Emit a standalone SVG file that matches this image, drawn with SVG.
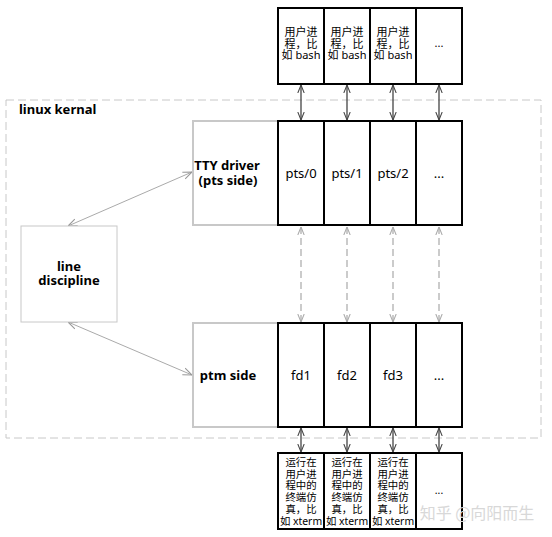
<svg xmlns="http://www.w3.org/2000/svg" width="552" height="537" viewBox="0 0 552 537">
<defs>
<style>
.t{font-family:"Noto Sans","Noto Sans CJK SC",sans-serif;fill:#000;text-anchor:middle}
.b{font-weight:bold;font-size:13px}
.s{font-size:13px}
.c{font-size:11px}
.c2{font-size:10.4px}
.cell{fill:#fff;stroke:#000;stroke-width:2}
.gbox{fill:#fff;stroke:#c8c8c8;stroke-width:2}
.arr{stroke:#444;stroke-width:1.3;fill:none;marker-start:url(#ah);marker-end:url(#ah)}
.darr{stroke:#bbb;stroke-width:1.5;stroke-dasharray:7 4;fill:none;marker-start:url(#ahg);marker-end:url(#ahg)}
.larr{stroke:#aaa;stroke-width:1;fill:none;marker-start:url(#ahl);marker-end:url(#ahl)}
</style>
<marker id="ah" viewBox="0 0 10 10" refX="10" refY="5" markerWidth="8" markerHeight="8" orient="auto-start-reverse" markerUnits="userSpaceOnUse"><path d="M0,1 L10,5 L0,9" fill="none" stroke="#444" stroke-width="1.3"/></marker>
<marker id="ahg" viewBox="0 0 10 10" refX="10" refY="5" markerWidth="8" markerHeight="8" orient="auto-start-reverse" markerUnits="userSpaceOnUse"><path d="M0,1 L10,5 L0,9" fill="none" stroke="#aaa" stroke-width="1.3"/></marker>
<marker id="ahl" viewBox="0 0 10 10" refX="10" refY="5" markerWidth="9" markerHeight="9" orient="auto-start-reverse" markerUnits="userSpaceOnUse"><path d="M0,1 L10,5 L0,9" fill="none" stroke="#999" stroke-width="1.2"/></marker>
</defs>
<rect width="552" height="537" fill="#fff"/>
<g id="kernel">
<rect x="6" y="100" width="535" height="338" fill="none" stroke="#c8c8c8" stroke-width="1" stroke-dasharray="8 4"/>
<text class="t b" x="19" y="114" style="text-anchor:start">linux kernal</text>
</g>
<g id="connectors">
<line class="arr" x1="301" y1="85" x2="301" y2="120"/>
<line class="arr" x1="347" y1="85" x2="347" y2="120"/>
<line class="arr" x1="393" y1="85" x2="393" y2="120"/>
<line class="arr" x1="439" y1="85" x2="439" y2="120"/>
<line class="darr" x1="301" y1="227" x2="301" y2="322"/>
<line class="darr" x1="347" y1="227" x2="347" y2="322"/>
<line class="darr" x1="393" y1="227" x2="393" y2="322"/>
<line class="darr" x1="439" y1="227" x2="439" y2="322"/>
<line class="arr" x1="301" y1="428" x2="301" y2="452"/>
<line class="arr" x1="347" y1="428" x2="347" y2="452"/>
<line class="arr" x1="393" y1="428" x2="393" y2="452"/>
<line class="arr" x1="439" y1="428" x2="439" y2="452"/>
<line class="larr" x1="192" y1="172" x2="68" y2="226"/>
<line class="larr" x1="68" y1="322" x2="192" y2="375"/>
</g>
<g id="user-procs">
<rect class="cell" x="278" y="8" width="46" height="76"/>
<rect class="cell" x="324" y="8" width="46" height="76"/>
<rect class="cell" x="370" y="8" width="46" height="76"/>
<rect class="cell" x="416" y="8" width="46" height="76"/>
<text class="t c" y="36"><tspan x="301">用户进</tspan><tspan x="301" dy="11.5">程，比</tspan><tspan x="301" dy="11.5">如 bash</tspan></text>
<text class="t c" y="36"><tspan x="347">用户进</tspan><tspan x="347" dy="11.5">程，比</tspan><tspan x="347" dy="11.5">如 bash</tspan></text>
<text class="t c" y="36"><tspan x="393">用户进</tspan><tspan x="393" dy="11.5">程，比</tspan><tspan x="393" dy="11.5">如 bash</tspan></text>
<text class="t c" x="439" y="47">...</text>
</g>
<g id="tty-driver">
<rect class="gbox" x="193" y="121" width="85" height="104"/>
<text class="t b" x="227" y="170">TTY driver</text>
<text class="t b" x="228" y="185">(pts side)</text>
</g>
<g id="pts">
<rect class="cell" x="278" y="121" width="46" height="104"/>
<rect class="cell" x="324" y="121" width="46" height="104"/>
<rect class="cell" x="370" y="121" width="46" height="104"/>
<rect class="cell" x="416" y="121" width="46" height="104"/>
<text class="t s" x="301" y="178">pts/0</text>
<text class="t s" x="347" y="178">pts/1</text>
<text class="t s" x="393" y="178">pts/2</text>
<text class="t s" x="439" y="178">...</text>
</g>
<g id="line-discipline">
<rect x="21" y="226" width="96" height="96" fill="#fff" stroke="#c8c8c8" stroke-width="1"/>
<text class="t b" x="69" y="271">line</text>
<text class="t b" x="69" y="285">discipline</text>
</g>
<g id="ptm-side">
<rect class="gbox" x="193" y="323" width="85" height="104"/>
<text class="t b" x="228" y="380">ptm side</text>
</g>
<g id="fd">
<rect class="cell" x="278" y="323" width="46" height="104"/>
<rect class="cell" x="324" y="323" width="46" height="104"/>
<rect class="cell" x="370" y="323" width="46" height="104"/>
<rect class="cell" x="416" y="323" width="46" height="104"/>
<text class="t s" x="301" y="380">fd1</text>
<text class="t s" x="347" y="380">fd2</text>
<text class="t s" x="393" y="380">fd3</text>
<text class="t s" x="439" y="380">...</text>
</g>
<g id="terminal-emulators">
<rect class="cell" x="278" y="453" width="46" height="76"/>
<rect class="cell" x="324" y="453" width="46" height="76"/>
<rect class="cell" x="370" y="453" width="46" height="76"/>
<rect class="cell" x="416" y="453" width="46" height="76"/>
<text class="t c2" y="466"><tspan x="301">运行在</tspan><tspan x="301" dy="11.7">用户进</tspan><tspan x="301" dy="11.7">程中的</tspan><tspan x="301" dy="11.7">终端仿</tspan><tspan x="301" dy="11.7">真，比</tspan><tspan x="301" dy="11.7">如 xterm</tspan></text>
<text class="t c2" y="466"><tspan x="347">运行在</tspan><tspan x="347" dy="11.7">用户进</tspan><tspan x="347" dy="11.7">程中的</tspan><tspan x="347" dy="11.7">终端仿</tspan><tspan x="347" dy="11.7">真，比</tspan><tspan x="347" dy="11.7">如 xterm</tspan></text>
<text class="t c2" y="466"><tspan x="393">运行在</tspan><tspan x="393" dy="11.7">用户进</tspan><tspan x="393" dy="11.7">程中的</tspan><tspan x="393" dy="11.7">终端仿</tspan><tspan x="393" dy="11.7">真，比</tspan><tspan x="393" dy="11.7">如 xterm</tspan></text>
<text class="t c2" x="439" y="494">...</text>
</g>
<text x="477" y="519" style="font-family:'Noto Sans CJK SC',sans-serif;font-size:16px;fill:#d8d8d8;text-anchor:middle">知乎 @向阳而生</text>
</svg>
